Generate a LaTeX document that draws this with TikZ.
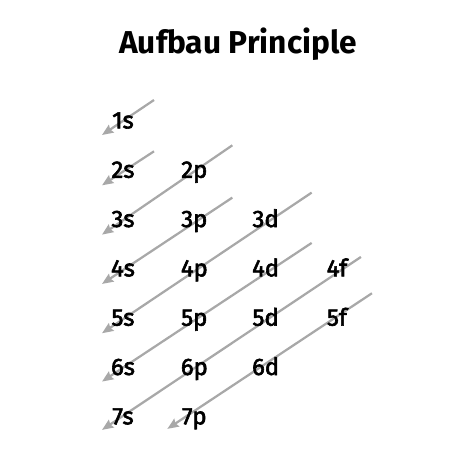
\documentclass[tikz,border=0pt]{standalone}
\usepackage{fontspec}
\setmainfont{Fira Sans}
\newfontfamily\orbfont{Fira Sans}[FakeBold=2.5]
\usetikzlibrary{arrows.meta,positioning,calc,backgrounds}
\definecolor{arrowgray}{HTML}{A8A8A8}

\begin{document}
\begin{tikzpicture}[x=0.025cm,y=-0.025cm,>={Stealth[length=8pt,width=6.5pt,inset=1pt]},
    node distance=1.2325cm and 1.7825cm,on grid,
    orb/.style={inner sep=0pt,text height=12pt,text depth=0pt,
      font=\orbfont\fontsize{17}{20}\selectfont},
    flow/.style={->,draw=arrowgray,fill=arrowgray,line width=1.6pt}]
    \useasboundingbox (0,0) rectangle (474,474);

    \node[anchor=base,font=\bfseries\fontsize{22.5}{27}\selectfont] (title) at (238,53) {Aufbau Principle};

    \node[orb] (s1) at (123,120) {1s};
    \node[orb] (s2) [below=of s1] {2s};
    \node[orb] (s3) [below=of s2] {3s};
    \node[orb] (s4) [below=of s3] {4s};
    \node[orb] (s5) [below=of s4] {5s};
    \node[orb] (s6) [below=of s5] {6s};
    \node[orb] (s7) [below=of s6] {7s};

    \node[orb] (p2) [right=of s2] {2p};
    \node[orb] (p3) [right=of s3] {3p};
    \node[orb] (p4) [right=of s4] {4p};
    \node[orb] (p5) [right=of s5] {5p};
    \node[orb] (p6) [right=of s6] {6p};
    \node[orb] (p7) [right=of s7] {7p};

    \node[orb] (d3) [right=of p3] {3d};
    \node[orb] (d4) [right=of p4] {4d};
    \node[orb] (d5) [right=of p5] {5d};
    \node[orb] (d6) [right=of p6] {6d};

    \node[orb] (f4) [right=of d4] {4f};
    \node[orb] (f5) [right=of d5] {5f};

    % filling order, under the labels
    \begin{scope}[on background layer]
    \draw[flow] ($(s1)+(31,-20)$) -- ($(s1)+(-21,15)$);
    \draw[flow] ($(s2)+(31,-18)$) -- ($(s2)+(-21,16)$);
    \draw[flow] ($(p2)+(38,-24)$) -- ($(s3)+(-21,16)$);
    \draw[flow] ($(p3)+(38,-21)$) -- ($(s4)+(-21,16)$);
    \draw[flow] ($(d3)+(46,-26)$) -- ($(s5)+(-21,16)$);
    \draw[flow] ($(d4)+(46,-25)$) -- ($(s6)+(-21,15)$);
    \draw[flow] ($(f4)+(24,-11)$) -- ($(s7)+(-21,14)$);
    \draw[flow] ($(f5)+(35,-24)$) -- ($(p7)+(-27,13)$);
    \end{scope}
\end{tikzpicture}
\end{document}
